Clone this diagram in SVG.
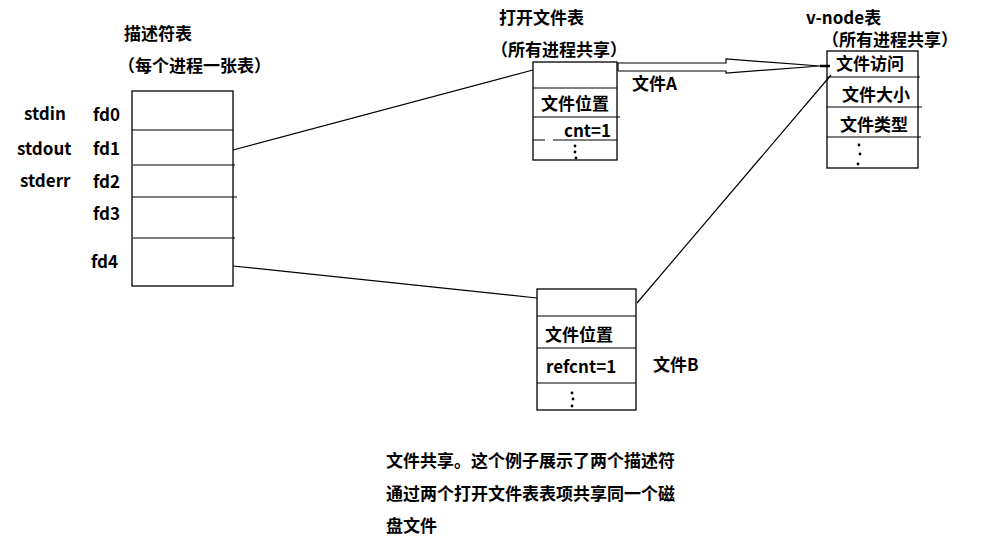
<svg xmlns="http://www.w3.org/2000/svg" width="995" height="543" viewBox="0 0 995 543">
<style>
text{font-family:"Noto Sans CJK SC","Noto Sans",sans-serif;font-weight:bold;font-size:17px;fill:#000}
.b{fill:#fff;stroke:#000;stroke-width:1.3}
.l{stroke:#000;stroke-width:1.2;fill:none}
.d{fill:#000}
</style>
<rect width="995" height="543" fill="#fff"/>
<g id="fdtable">
<text x="124" y="40">描述符表</text>
<text x="118" y="72">（每个进程一张表）</text>
<rect class="b" x="132" y="91" width="101" height="195"/>
<path class="l" d="M132 130H233M133 165H235M132 197H237M133 238H235"/>
<text x="24" y="120">stdin</text><text x="93" y="121">fd0</text>
<text x="17" y="155">stdout</text><text x="93" y="155">fd1</text>
<text x="20" y="187">stderr</text><text x="93" y="188">fd2</text>
<text x="93" y="220">fd3</text>
<text x="91" y="268">fd4</text>
</g>
<g id="fileA">
<text x="499" y="24">打开文件表</text>
<text x="491" y="56">（所有进程共享）</text>
<rect class="b" x="533" y="62" width="84" height="98"/>
<path class="l" d="M533 88H617M533 117H620M533 140H545M553 140H617"/>
<text x="541" y="110">文件位置</text>
<text x="564" y="137">cnt=1</text>
<circle class="d" cx="575" cy="146" r="1.4"/><circle class="d" cx="575" cy="152" r="1.4"/><circle class="d" cx="576" cy="158" r="1.4"/>
<text x="632" y="90">文件A</text>
</g>
<g id="vnode">
<text x="806" y="24">v-node表</text>
<text x="822" y="46">（所有进程共享）</text>
<rect class="b" x="827" y="51" width="91" height="117"/>
<path class="l" d="M827 77H920M827 107H922M827 137H921"/>
<text x="836" y="70">文件访问</text>
<text x="842" y="101">文件大小</text>
<text x="840" y="131">文件类型</text>
<circle class="d" cx="859" cy="145" r="1.4"/><circle class="d" cx="860" cy="154" r="1.4"/><circle class="d" cx="858" cy="164" r="1.4"/>
</g>
<g id="fileB">
<rect class="b" x="537" y="289" width="99" height="121"/>
<path class="l" d="M537 316H636M537 348H636M537 383H636"/>
<text x="545" y="341">文件位置</text>
<text x="546" y="373">refcnt=1</text>
<circle class="d" cx="572" cy="393" r="1.4"/><circle class="d" cx="573" cy="399" r="1.4"/><circle class="d" cx="572" cy="406" r="1.4"/>
<text x="653" y="371">文件B</text>
</g>
<g id="caption">
<text x="386" y="467">文件共享。这个例子展示了两个描述符</text>
<text x="386" y="500">通过两个打开文件表表项共享同一个磁</text>
<text x="386" y="532">盘文件</text>
</g>
<g id="connectors">
<path class="l" d="M233 150L533 70M233 266L537 298M637 303L831 75"/>
<path class="l" d="M618 63H726V59L820 66L726 73V71H618Z"/>
<path d="M820 66H830" stroke="#000" stroke-width="2.5"/>
</g>
</svg>
